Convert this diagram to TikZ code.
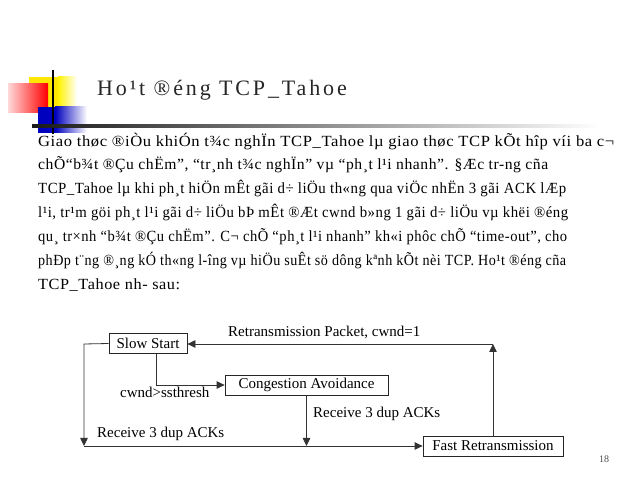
\documentclass[tikz,border=0pt]{standalone}
\usepackage{fontspec}
\usepackage{graphicx}
\setmainfont{Liberation Serif}
\newfontfamily\bodyfont[LetterSpace=3.5]{Liberation Serif}
\newfontfamily\titlefont[LetterSpace=13]{Liberation Serif}
\newcommand\fitline[2]{\resizebox{#1}{\height}{#2}}
\usetikzlibrary{arrows.meta}
\begin{document}
\begin{tikzpicture}[x=1pt,y=-1pt,
  statebox/.style={draw=black!85, line width=0.8pt, inner sep=0pt, minimum height=20pt,
    font=\fontsize{15}{15}\selectfont},
  lbl/.style={inner sep=0pt, font=\fontsize{15}{15}\selectfont},
  conn/.style={draw=black!80, line width=0.8pt, -{Triangle[length=8pt,width=7.5pt]}},
  bodyline/.style={anchor=base west, inner sep=0pt, font=\bodyfont\fontsize{15.5}{15.5}\selectfont}]
\useasboundingbox (0,0) rectangle (638,478);
% decoration
\fill[yellow!90!orange] (29,77) rectangle (58,107);
\shade[left color=yellow!90!orange, right color=white] (58,77) rectangle (77,107);
\shade[left color=red!15!white, right color=red] (8,84) rectangle (48,113);
\fill[blue!75!black] (38,107) rectangle (55,133);
\shade[left color=blue!75!black, right color=white] (55,107) rectangle (87,133);
\draw[black, line width=1.6pt] (53,70) -- (53,134);
\shade[left color=black!90, right color=white, middle color=black!45] (32,124.8) rectangle (600,127.4);
% title
\node[anchor=base west, inner sep=0pt, text=black!85, font=\titlefont\fontsize{22}{22}\selectfont] (title) at (97,96) {Ho¹t ®éng TCP\_Tahoe};
% body
\node[bodyline] (l1) at (38,147) {\fitline{576pt}{Giao thøc ®iÒu khiÓn t¾c nghÏn TCP\_Tahoe lµ giao thøc TCP kÕt hîp víi ba c¬}};
\node[bodyline] (l2) at (38,170) {\fitline{510pt}{chÕ“b¾t ®Çu chËm”, “tr¸nh t¾c nghÏn” vµ “ph¸t l¹i nhanh”. §Æc tr-ng cña}};
\node[bodyline] (l3) at (38,194) {\fitline{528pt}{TCP\_Tahoe lµ khi ph¸t hiÖn mÊt gãi d÷ liÖu th«ng qua viÖc nhËn 3 gãi ACK lÆp}};
\node[bodyline] (l4) at (38,218) {\fitline{530pt}{l¹i, tr¹m göi ph¸t l¹i gãi d÷ liÖu bÞ mÊt ®Æt cwnd b»ng 1 gãi d÷ liÖu vµ khëi ®éng}};
\node[bodyline] (l5) at (38,242) {\fitline{529pt}{qu¸ tr×nh “b¾t ®Çu chËm”. C¬ chÕ “ph¸t l¹i nhanh” kh«i phôc chÕ “time-out”, cho}};
\node[bodyline] (l6) at (38,266) {\fitline{528pt}{phÐp t¨ng ®¸ng kÓ th«ng l-îng vµ hiÖu suÊt sö dông kªnh kÕt nèi TCP. Ho¹t ®éng cña}};
\node[bodyline] (l7) at (38,290) {\fitline{142pt}{TCP\_Tahoe nh- sau:}};
% diagram
\node[statebox, minimum width=78pt] (ss) at (148,343.5) {Slow Start};
\node[statebox, minimum width=163pt] (ca) at (306.5,385) {Congestion Avoidance};
\node[statebox, minimum width=140pt] (fr) at (493,446) {Fast Retransmission};
\coordinate (topc) at (493,344);
\coordinate (leftc) at (84,344);
\coordinate (leftb) at (84,446);
\coordinate (ssdown) at (156,385);
\coordinate (cab) at (306.5,446);
\draw[conn] (fr.north) -- (topc);
\draw[conn] (topc) -- (ss.east |- topc);
\draw[conn] (ss.west) -- (leftc) -- (leftb);
\draw[conn] (leftb) -- (fr.west);
\draw[conn] (156,354) -- (ssdown) -- (ca.west);
\draw[conn] (ca.south) -- (cab);
\node[lbl, anchor=base west] (retx) at (228,337) {Retransmission Packet, cwnd=1};
\node[lbl, anchor=base west] (cw) at (120,398) {cwnd>ssthresh};
\node[lbl, anchor=base west] (r3a) at (313,418) {Receive 3 dup ACKs};
\node[lbl, anchor=base west] (r3b) at (97,438) {Receive 3 dup ACKs};
\node[inner sep=0pt, text=black!70, font=\fontsize{10}{10}\selectfont] (pg) at (604,459) {18};
\end{tikzpicture}
\end{document}
